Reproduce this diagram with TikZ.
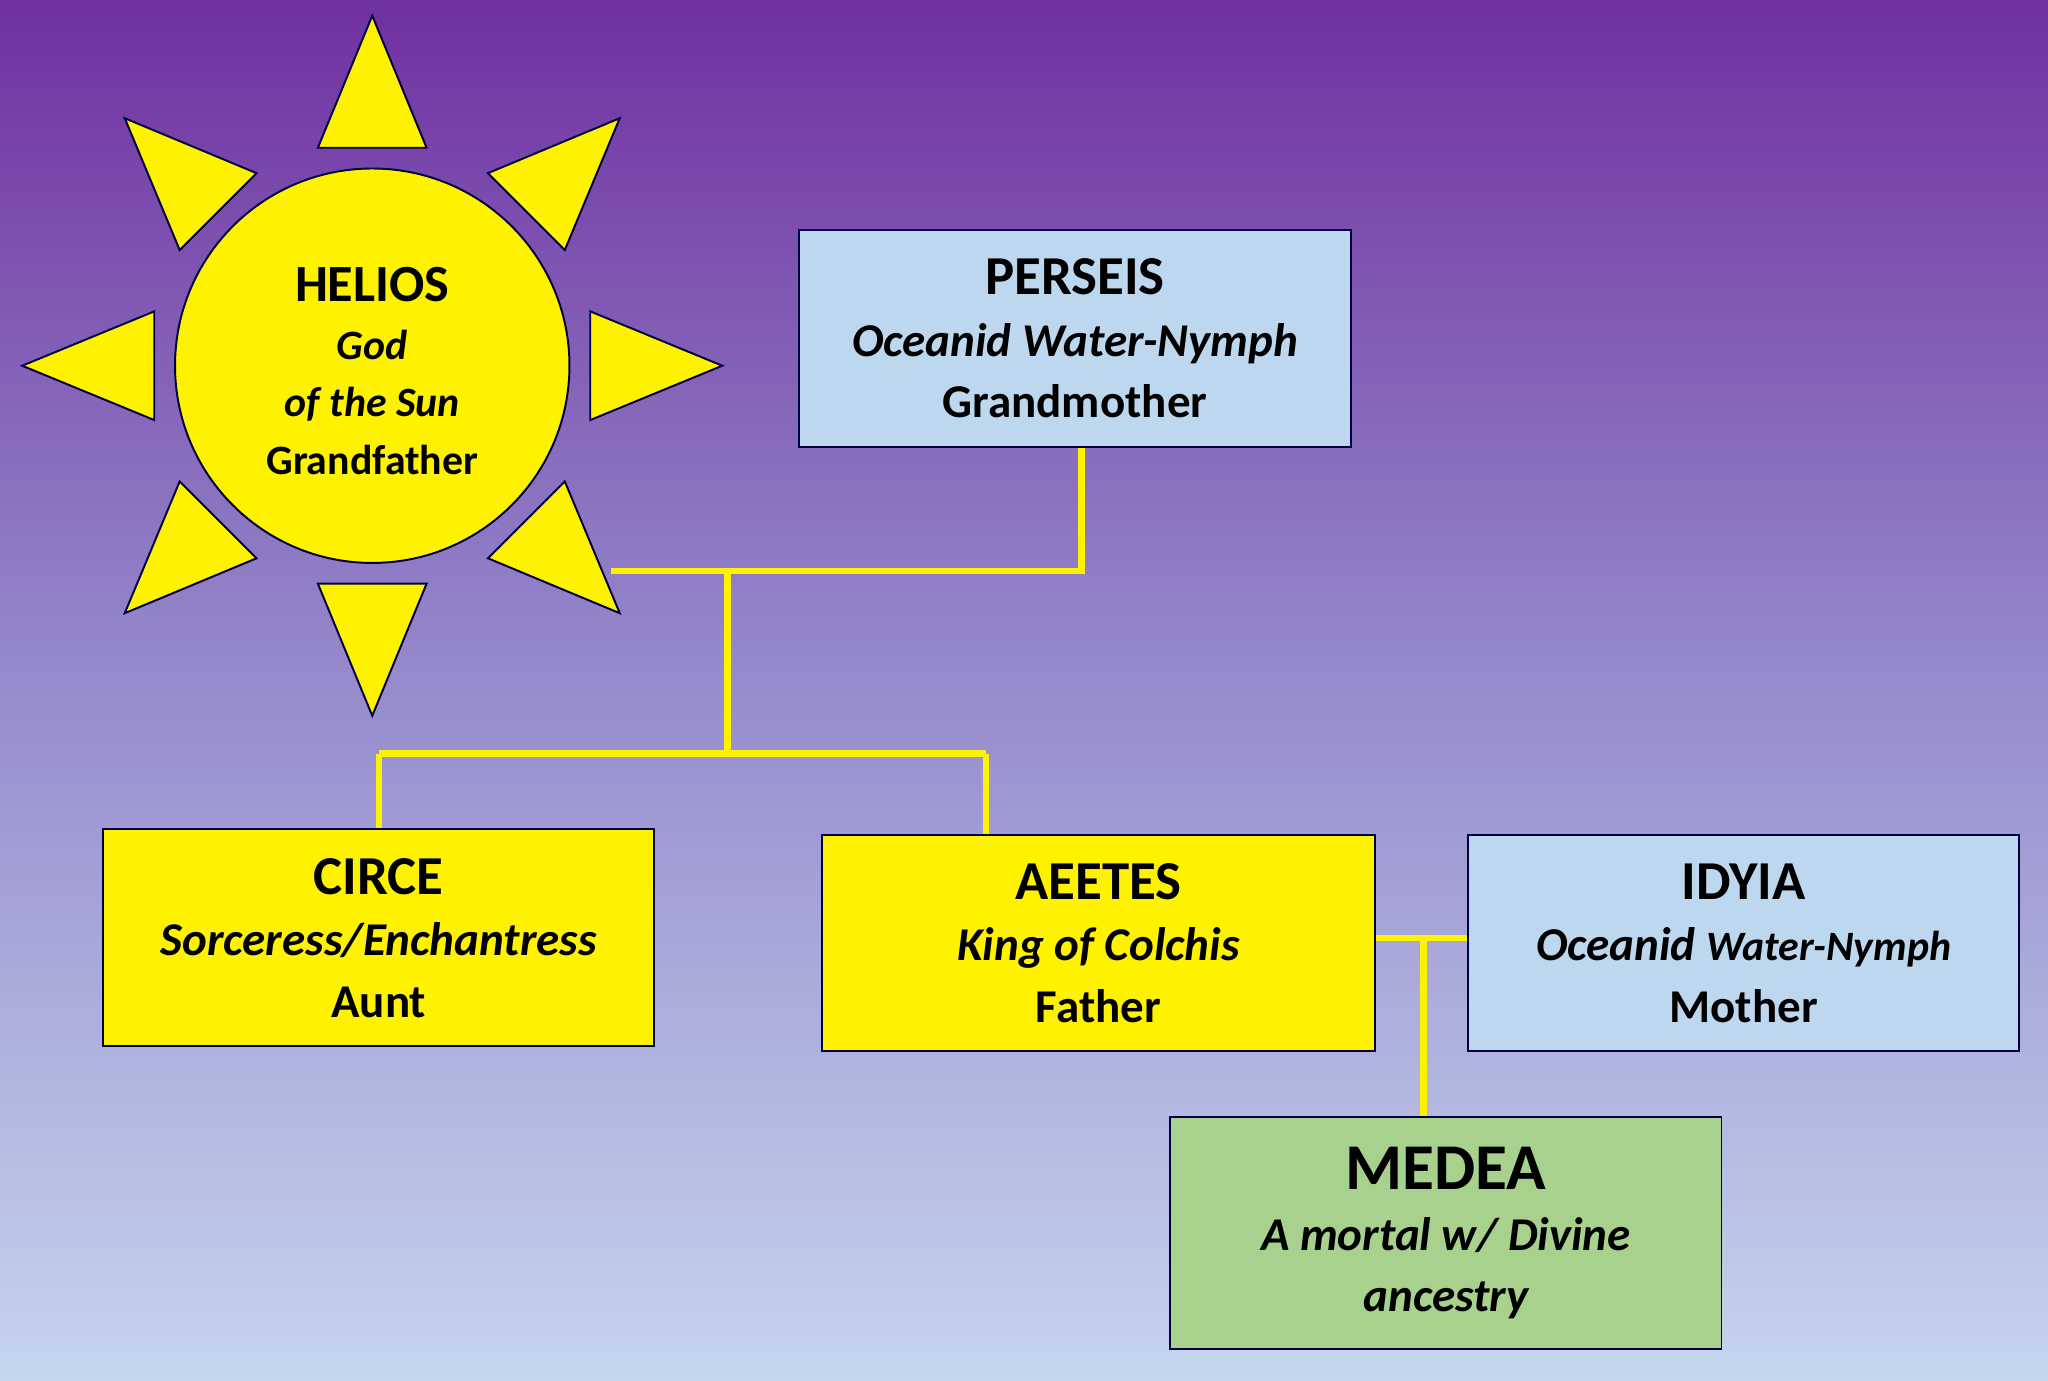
\documentclass[tikz,border=0pt]{standalone}
\usepackage{fontspec}
\setmainfont{Carlito}
\usetikzlibrary{calc}
\begin{document}
\begin{tikzpicture}[x=1pt,y=-1pt,
 box/.style={draw=black!75!blue,line width=1.5pt,align=center,inner sep=0pt,font=\bfseries\fontsize{36}{47}\selectfont},
 ylw/.style={box,fill=yellow},
 blu/.style={box,fill={rgb,255:red,189;green,215;blue,238}},
 grn/.style={box,fill={rgb,255:red,169;green,209;blue,142}},
 link/.style={draw=yellow,line width=5pt}]
\shade[top color={rgb,255:red,112;green,48;blue,160},bottom color={rgb,255:red,197;green,213;blue,238},middle color={rgb,255:red,150;green,140;blue,205}] (0,0) rectangle (1568,1057);
\useasboundingbox (0,0) rectangle (1568,1057);
% sun rays
\foreach \a in {0,45,...,315}{
 \fill[yellow,draw=black!75!blue,line width=1.5pt] ($(285,280)+(\a+14:172)$) -- ($(285,280)+(\a:268)$) -- ($(285,280)+(\a-14:172)$) -- cycle;
}
\node[circle,fill=yellow,draw=black!75!blue,line width=1.5pt,minimum size=302pt,inner sep=0pt] (helios) at (285,280) {};
\node[align=center,font=\bfseries\fontsize{32}{44}\selectfont] (heliost) at (285,284) {{\fontsize{40}{44}\selectfont HELIOS}\\\itshape God\\\itshape of the Sun\\Grandfather};
\node[blu,minimum width=422pt,minimum height=166pt] (perseis) at (823,259) {{\fontsize{42}{47}\selectfont PERSEIS}\\\itshape Oceanid Water-Nymph\\Grandmother};
\node[ylw,minimum width=422pt,minimum height=166pt] (circe) at (290,718) {{\fontsize{42}{47}\selectfont CIRCE}\\\itshape Sorceress/Enchantress\\Aunt};
\node[ylw,minimum width=423pt,minimum height=166pt] (aeetes) at (841,722) {{\fontsize{42}{47}\selectfont AEETES}\\\itshape King of Colchis\\Father};
\node[blu,minimum width=422pt,minimum height=166pt] (idyia) at (1335,722) {{\fontsize{42}{47}\selectfont IDYIA}\\\itshape Oceanid {\fontsize{32}{47}\selectfont Water-Nymph}\\Mother};
\node[grn,minimum width=422pt,minimum height=178pt] (medea) at (1107,944) {{\fontsize{50}{52}\selectfont MEDEA}\\\itshape A mortal w/ Divine\\\itshape ancestry};
% connectors
\coordinate (j1) at (828,437);
\coordinate (j0) at (468,437);
\coordinate (j2) at (557,437);
\coordinate (j3) at (557,577);
\coordinate (cl) at (290,577);
\coordinate (cr) at (755,577);
\coordinate (m1) at (1090,718);
\draw[link] (perseis.south -| j1) -- (j1) -- (j0);
\draw[link] (j2) -- (j3);
\draw[link] (cl) -- (cr);
\draw[link] (cl) -- (circe.north -| cl);
\draw[link] (cr) -- (aeetes.north -| cr);
\draw[link] (aeetes.east |- m1) -- (idyia.west |- m1);
\draw[link] (m1) -- (medea.north -| m1);
\end{tikzpicture}
\end{document}
